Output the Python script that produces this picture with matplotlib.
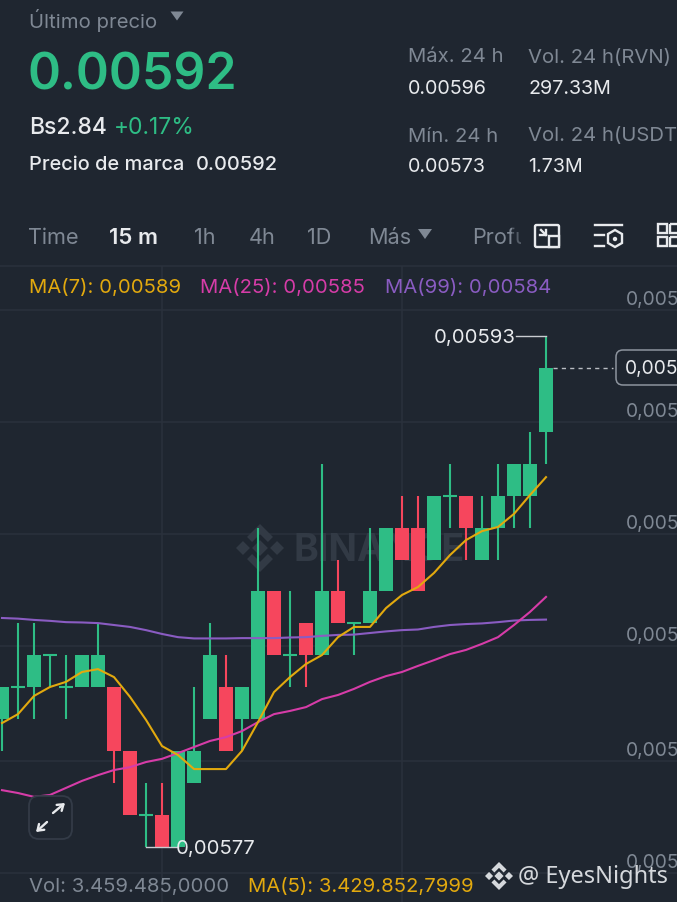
import matplotlib
matplotlib.use("Agg")
import matplotlib.pyplot as plt
from matplotlib.patches import FancyBboxPatch, Polygon, Rectangle, Circle

# --- colours ---
BG = "#1f2630"
GRID = "#2a313c"
GREEN = "#2ebd85"
RED = "#f6465d"
YELLOW = "#e2a90e"
MAGENTA = "#d63ca8"
PURPLE = "#8a5cc2"
MUTED = "#7f8894"
WHITE = "#e8eaed"

# --- candles, left to right, units of 0.00001 ---
opens = [581, 582, 582, 583, 582, 582, 582, 582, 580, 578, 578, 577, 579, 581, 582, 581, 581, 585,
         583, 584, 583, 585, 584, 584, 585, 587, 587, 586, 588, 588, 586, 587, 588, 588, 590]
closes = [582, 582, 583, 583, 582, 583, 583, 580, 578, 578, 577, 580, 580, 583, 580, 582, 585, 583,
          583, 583, 585, 584, 584, 585, 587, 586, 585, 588, 588, 587, 587, 588, 589, 589, 592]
highs = [582, 584, 584, 583, 583, 583, 584, 582, 580, 579, 579, 580, 582, 584, 583, 582, 587, 585,
         585, 584, 589, 586, 584, 587, 587, 588, 588, 588, 589, 588, 588, 589, 589, 590, 593]
lows = [580, 581, 581, 582, 581, 582, 582, 579, 578, 577, 577, 577, 579, 581, 580, 580, 581, 583,
        582, 582, 583, 584, 583, 584, 585, 586, 585, 586, 587, 586, 586, 586, 587, 587, 589]

# --- moving averages, one value per candle, same units ---
ma7 = [580.88, 581.16, 581.73, 582.01, 582.17, 582.48, 582.57, 582.32, 581.70, 580.98, 580.16, 579.88,
       579.44, 579.44, 579.44, 580.01, 580.91, 581.85, 582.32, 582.73, 583.01, 583.57, 583.89, 583.89,
       584.48, 584.89, 585.14, 585.58, 586.14, 586.61, 586.89, 587.02, 587.43, 588.02, 588.58]
ma25 = [578.78, 578.69, 578.57, 578.63, 578.85, 579.07, 579.25, 579.41, 579.50, 579.66, 579.76, 579.94,
        580.13, 580.32, 580.44, 580.63, 580.91, 581.16, 581.26, 581.38, 581.63, 581.76, 581.95, 582.17,
        582.35, 582.48, 582.67, 582.85, 583.04, 583.17, 583.36, 583.57, 583.95, 584.36, 584.83]
ma99 = [584.17, 584.15, 584.11, 584.08, 584.04, 584.03, 584.01, 583.95, 583.89, 583.79, 583.67, 583.57,
        583.53, 583.53, 583.53, 583.54, 583.54, 583.54, 583.56, 583.57, 583.61, 583.64, 583.65, 583.70,
        583.75, 583.79, 583.81, 583.89, 583.95, 583.98, 584.00, 584.04, 584.09, 584.11, 584.12]

# --- axis labels, the price column is cut by the screen edge in the screenshot ---
grid_prices = [593.8, 590.3, 586.8, 583.3, 579.7, 576.2]
grid_labels = ["0,005", "0,005", "0,005", "0,005", "0,005", "0,005"]
vgrid_idx = [10, 25]

PX_PER_UNIT = 31.94
W, H = 677, 903


def x_idx(px):
    return (px - 2) / 16


def p_at(py):
    return 577 + (848 - py) / PX_PER_UNIT


plt.rcParams["font.family"] = ["Inter", "DejaVu Sans"]
fig = plt.figure(figsize=(W / 100, H / 100), dpi=100, facecolor=BG)

# chart area, pixel rows 267..903
ax = fig.add_axes([0, 0, 1, (H - 267) / H], facecolor=BG)
ax.set_xlim(x_idx(0), x_idx(W))
ax.set_ylim(p_at(H), p_at(267))
ax.set_xticks(vgrid_idx)
ax.set_yticks(grid_prices)
ax.tick_params(length=0, labelbottom=False, labelleft=False)
ax.grid(True, color=GRID, lw=1.1)
ax.set_axisbelow(True)
for s in ax.spines.values():
    s.set_visible(False)

# page overlay in pixels, for header, icons and footer
ov = fig.add_axes([0, 0, 1, 1], facecolor="none")
ov.set_xlim(0, W)
ov.set_ylim(H, 0)
ov.axis("off")
ov.set_zorder(3)


def txt(x, y, s, color=WHITE, size=14.6, weight="normal", family=None, **kw):
    if family:
        kw["family"] = family
    return ov.text(x, y + 1.5, s, color=color, fontsize=size, fontweight=weight, va="center", **kw)


def triangle(cx, cy, w, h, color=MUTED):
    ov.add_patch(Polygon([(cx - w / 2, cy - h / 2), (cx + w / 2, cy - h / 2), (cx, cy + h / 2)],
                         closed=True, fc=color, ec="none"))


def logo(a, cx, cy, r, color, zorder=1, conv=lambda x, y: (x, y)):
    # binance mark made from small diamonds and two chevrons
    shapes = [
        [(-1, 0), (-0.71, -0.29), (-0.42, 0), (-0.71, 0.29)],
        [(1, 0), (0.71, -0.29), (0.42, 0), (0.71, 0.29)],
        [(-0.33, 0), (0, -0.33), (0.33, 0), (0, 0.33)],
        [(-0.54, -0.46), (0, -1), (0.54, -0.46), (0.33, -0.25), (0, -0.58), (-0.33, -0.25)],
        [(-0.54, 0.46), (0, 1), (0.54, 0.46), (0.33, 0.25), (0, 0.58), (-0.33, 0.25)],
    ]
    for pts in shapes:
        a.add_patch(Polygon([conv(cx + u * r, cy + v * r) for u, v in pts], closed=True,
                            fc=color, ec="none", zorder=zorder))


# --- header ---
txt(29, 19, "Último precio", MUTED)
triangle(177, 17, 13, 9)
txt(28, 74, "0.00592", GREEN, 36, "semibold")
txt(29, 127, "Bs2.84", WHITE, 16.5, "medium")
txt(114, 127, "+0.17%", GREEN, 16.5)
txt(29, 164, "Precio de marca", WHITE, 14.4, "medium")
txt(196, 164, "0.00592", WHITE, 14.4, "medium")
txt(408, 56, "Máx. 24 h", MUTED)
txt(408, 87, "0.00596", WHITE, 14.2)
txt(528, 56, "Vol. 24 h(RVN)", MUTED)
txt(528, 87, "297.33M", WHITE, 14.2)
txt(408, 135, "Mín. 24 h", MUTED)
txt(408, 166, "0.00573", WHITE, 14.2)
txt(528, 135, "Vol. 24 h(USDT", MUTED)
txt(528, 166, "1.73M", WHITE, 14.2)

# --- tabs ---
for x, s in zip([28, 194, 249, 307, 368], ["Time", "1h", "4h", "1D", "Más"]):
    txt(x, 237, s, MUTED, 15.6)
txt(109, 237, "15 m", WHITE, 16, "semibold")
triangle(425, 235, 14, 10)
txt(472, 237, "Profu", MUTED, 15.6)
ov.add_patch(Rectangle((512, 222), 9, 30, fc=BG, alpha=0.45, ec="none", zorder=4))
ov.add_patch(Rectangle((521, 222), 14, 30, fc=BG, ec="none", zorder=4))

# header icons
ico = dict(fc="none", ec=WHITE, lw=1.7, zorder=5)
ov.add_patch(FancyBboxPatch((535, 226), 24, 22, boxstyle="round,pad=0,rounding_size=1.5", **ico))
ov.add_patch(Rectangle((549, 237), 10, 11, fc=BG, ec=WHITE, lw=1.7, zorder=5))
ov.plot([541, 546], [231, 236], color=WHITE, lw=1.7, zorder=5)
ov.plot([540, 546, 546], [236, 236, 231], color=WHITE, lw=1.7, zorder=5)
ov.plot([595, 622], [226, 226], color=WHITE, lw=1.7)
ov.plot([595, 604], [236, 236], color=WHITE, lw=1.7)
ov.plot([595, 604], [247, 247], color=WHITE, lw=1.7)
ov.add_patch(Polygon([(615, 231), (622, 235), (622, 244), (615, 248), (608, 244), (608, 235)], closed=True, **ico))
ov.add_patch(Circle((615, 240), 2.2, fc=WHITE, ec="none"))
for ix, iy in [(658, 225), (670, 225), (658, 238), (670, 238)]:
    ov.add_patch(Rectangle((ix, iy), 9, 9, **ico))

# top rule of the chart
ov.plot([0, W], [267, 267], color=GRID, lw=1.1)

# --- legend ---
txt(29, 287, "MA(7): 0,00589", YELLOW)
txt(200, 287, "MA(25): 0,00585", MAGENTA)
txt(385, 287, "MA(99): 0,00584", PURPLE)

# --- watermark ---
ax.text(x_idx(293), p_at(551), "BINANCE", color="#323a45", fontsize=27, fontweight="bold",
        va="center", zorder=1.5)
logo(ax, 260, 549, 24, "#323a45", zorder=1.5, conv=lambda x, y: (x_idx(x), p_at(y)))

# --- candles ---
for i in range(len(opens)):
    o, c, hi, lo = opens[i], closes[i], highs[i], lows[i]
    col = RED if c < o else GREEN
    ax.vlines(i, lo, hi, color=col, lw=1.5, zorder=2)
    if o == c:
        ax.hlines(c, i - 0.44, i + 0.44, color=col, lw=1.5, zorder=2)
    else:
        ax.bar(i, abs(c - o), bottom=min(o, c), width=0.88, color=col, zorder=2)

xs = list(range(len(ma7)))
ax.plot(xs, ma99, color=PURPLE, lw=1.5, zorder=3)
ax.plot(xs, ma25, color=MAGENTA, lw=1.5, zorder=3)
ax.plot(xs, ma7, color=YELLOW, lw=1.5, zorder=3)

# --- high / low markers ---
ax.plot([34, x_idx(516)], [593, 593], color="#c9ccd1", lw=1, zorder=4)
ax.text(x_idx(516), p_at(338), "0,00593", color=WHITE, fontsize=14.6, ha="right", va="center", zorder=5)
ax.plot([9, x_idx(178)], [577, 577], color="#c9ccd1", lw=1, zorder=4)
ax.text(x_idx(176), p_at(849), "0,00577", color=WHITE, fontsize=14.6, ha="left", va="center", zorder=5)

# --- price axis labels ---
for p, lbl in zip(grid_prices, grid_labels):
    ax.text(x_idx(626), p + 11 / PX_PER_UNIT, lbl, color=MUTED, fontsize=13.8, va="center", zorder=5)

# --- current price tag ---
ax.plot([x_idx(553), x_idx(613)], [592, 592], color="#b9bdc3", lw=1, ls=(0, (3, 3)), zorder=4)
ov.add_patch(FancyBboxPatch((616, 351), 90, 35, boxstyle="round,pad=0,rounding_size=7", fc=BG, ec="#8d949e", lw=1.1))
txt(625, 367.5, "0,005", WHITE, 13.8)

# --- expand button ---
ov.add_patch(FancyBboxPatch((29, 797), 43, 43, boxstyle="round,pad=0,rounding_size=10", fc=BG, ec="#333b47", lw=1.3))
for (x0, y0, x1, y1) in [(53, 814, 65, 804), (47, 823, 36, 833)]:
    ov.annotate("", xy=(x1, y1), xytext=(x0, y0),
                arrowprops=dict(arrowstyle="->,head_length=0.4,head_width=0.28", color=WHITE, lw=1.7,
                                shrinkA=0, shrinkB=0))

# --- footer ---
txt(29, 886, "Vol: 3.459.485,0000", MUTED)
txt(248, 886, "MA(5): 3.429.852,7999", YELLOW)
logo(ov, 499, 877, 14, "#d5d8dc", zorder=6)
txt(518, 876, "@ EyesNights", "#d5d8dc", 17, family="Noto Sans", zorder=6)

fig.savefig("out.png", dpi=100, facecolor=BG)
